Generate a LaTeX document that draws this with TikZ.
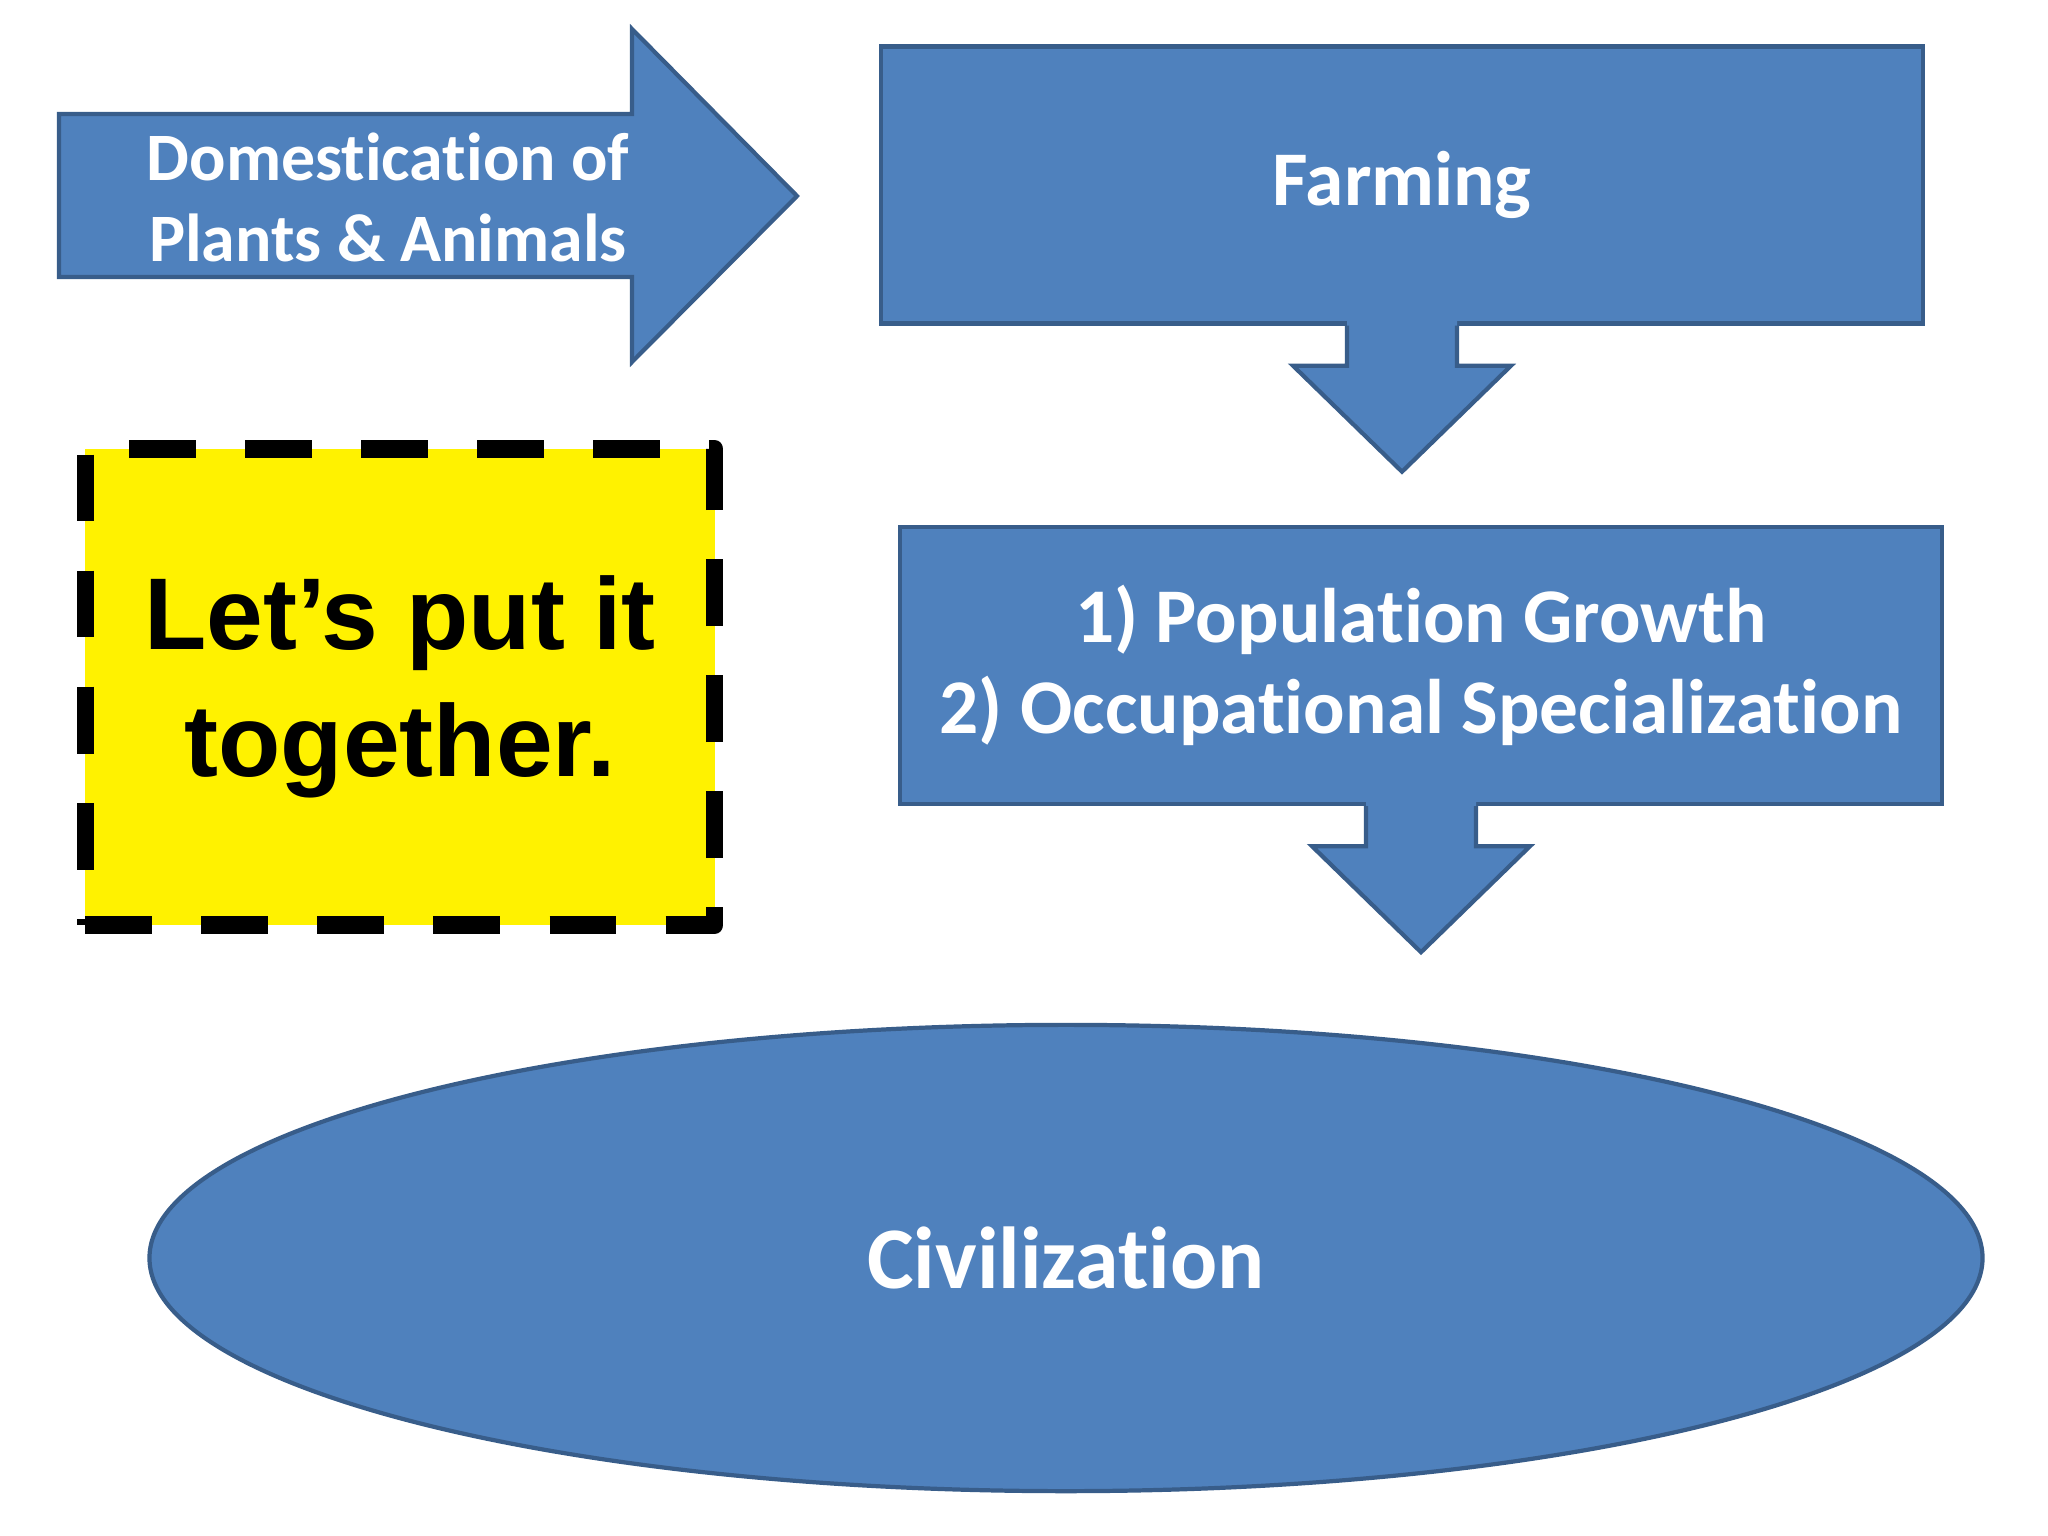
\documentclass[tikz,border=0pt]{standalone}
\usepackage{fontspec}
\setmainfont{Carlito}[Ligatures=NoCommon]
\newfontfamily\notefont{Liberation Sans}
\usepackage{tikz}
\usetikzlibrary{shapes.geometric}
\usetikzlibrary{calc}
\usetikzlibrary{positioning}
\definecolor{boxblue}{HTML}{4F81BD}
\definecolor{boxline}{HTML}{385D8A}
\tikzset{blueline/.style={draw=boxline,line width=1.2pt,line join=miter}}
\tikzset{bluebox/.style={blueline,fill=boxblue,minimum width=10.41cm,minimum height=2.77cm,text=white,align=center,font=\bfseries\fontsize{22}{26}\selectfont}}
\tikzset{notebox/.style={draw=black,fill=yellow,line width=5pt,dash pattern=on 19pt off 14pt,line join=round,minimum width=6.29cm,minimum height=4.76cm,align=center,font=\notefont\bfseries\fontsize{29}{36}\selectfont}}

\begin{document}
\begin{tikzpicture}[x=0.01cm,y=-0.01cm]
		\useasboundingbox (0,0) rectangle (2048,1536);
		% big arrow into farming
		\filldraw[blueline,fill=boxblue] (59,114) -- (632,114) -- (632,29) -- (797,196) -- (632,362) -- (632,277) -- (59,277) -- cycle;
		\node[text=white,align=center,font=\bfseries\fontsize{19.3}{23}\selectfont] (dom) at (388,197) {Domestication of\\Plants \& Animals};
		\node[bluebox] (farm) at (1402,185) {Farming};
		\node[bluebox,below=1.99cm of farm,xshift=0.19cm] (pop) {1) Population Growth\\2) Occupational Specialization};
		\foreach \src in {farm,pop} {
			\fill[boxblue] ($(\src.south)+(-55,-6)$) -- ($(\src.south)+(-55,40)$) -- ($(\src.south)+(-109,40)$) -- ($(\src.south)+(0,146)$) -- ($(\src.south)+(109,40)$) -- ($(\src.south)+(55,40)$) -- ($(\src.south)+(55,-6)$) -- cycle;
			\draw[blueline] ($(\src.south)+(-55,0)$) -- ($(\src.south)+(-55,40)$) -- ($(\src.south)+(-109,40)$) -- ($(\src.south)+(0,146)$) -- ($(\src.south)+(109,40)$) -- ($(\src.south)+(55,40)$) -- ($(\src.south)+(55,0)$);
		}
		\node[notebox] (note) at (400,687) {Let’s put it\\together.};
		\node[ellipse,blueline,fill=boxblue,minimum width=18.32cm,minimum height=4.66cm,text=white,font=\bfseries\fontsize{25}{30}\selectfont] (civ) at (1066,1258) {Civilization};
	\end{tikzpicture}
\end{document}
